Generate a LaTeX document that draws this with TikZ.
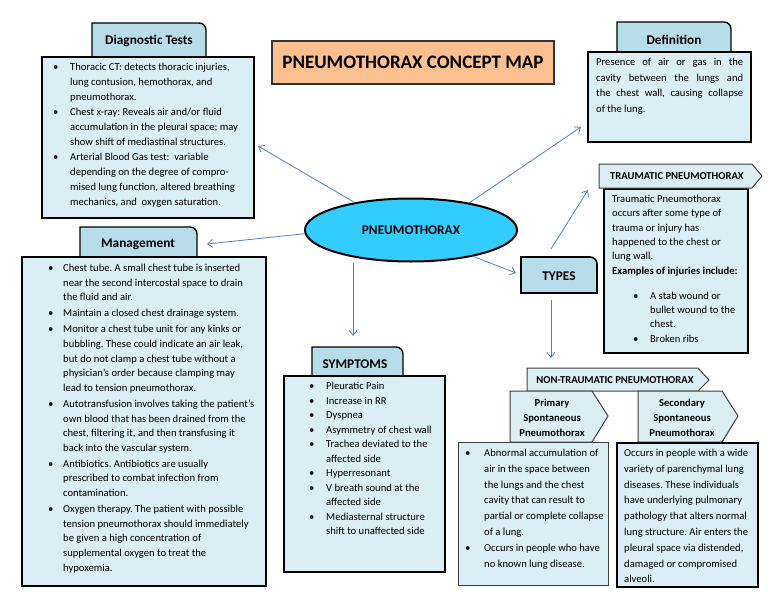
\documentclass[tikz,border=0pt]{standalone}
\usepackage{fontspec}
\setmainfont{Carlito}
\usetikzlibrary{arrows.meta,shapes.geometric,calc}
\definecolor{boxfill}{HTML}{DBEEF4}
\definecolor{tabfill}{HTML}{B7DEE8}
\definecolor{ellfill}{HTML}{33CCFF}
\definecolor{titlefill}{HTML}{FAC090}
\definecolor{arrowblue}{HTML}{4F81BD}
\definecolor{hdrline}{HTML}{404040}
\newcommand\bu{\makebox[17pt][l]{\textbullet}}
\newcommand\ind{\hspace*{17pt}}
\newcommand\bub{\makebox[19pt][l]{\textbullet}}
\newcommand\indb{\hspace*{19pt}}
\newcommand\bum{\makebox[15pt][l]{\textbullet}}
\newcommand\indm{\hspace*{15pt}}
\newcommand\jl[1]{\makebox[147pt][s]{#1}}
\tikzset{
  panel/.style={draw=black, line width=1.6pt, fill=boxfill, anchor=north west, inner sep=0pt},
  tabshape/.style={draw=black, line width=1.4pt, fill=tabfill},
  tabtext/.style={font=\fontsize{13.3}{16}\selectfont\bfseries, inner sep=0pt},
  body/.style={align=left, inner sep=0pt, anchor=north west},
  link/.style={draw=arrowblue, line width=0.8pt, -{Straight Barb[length=5pt,width=8pt]}},
  hdr/.style={draw=hdrline, line width=1pt, fill=boxfill},
  hdrtext/.style={font=\fontsize{10.6}{15}\selectfont\bfseries, inner sep=0pt, align=center},
}
\begin{document}
\frenchspacing
\begin{tikzpicture}[x=1pt,y=-1pt]
\useasboundingbox (0,0) rectangle (768,594);

% title
\node[draw=black!80, line width=1.2pt, fill=titlefill, minimum width=282pt, minimum height=43pt,
  inner sep=0pt, font=\fontsize{19}{22}\selectfont\bfseries] (title) at (413,62.5) {PNEUMOTHORAX CONCEPT MAP};

% Diagnostic tests
\draw[tabshape] (92,56) -- (92,23) -- (199,23) arc[start angle=-90,end angle=0,radius=7] -- (206,56);
\node[tabtext] (diagtab) at (149,41) {Diagnostic Tests};
\node[panel, minimum width=212pt, minimum height=161pt] (diagbox) at (41,56) {};
\node[body, font=\fontsize{10.6}{15}\selectfont] (diagtxt) at (53,63) {%
\bu Thoracic CT: detects thoracic injuries,\\
\ind lung contusion, hemothorax, and\\
\ind pneumothorax.\\
\bu Chest x-ray: Reveals air and/or fluid\\
\ind accumulation in the pleural space; may\\
\ind show shift of mediastinal structures.\\
\bu Arterial Blood Gas test:\ \ variable\\
\ind depending on the degree of compro-\\
\ind mised lung function, altered breathing\\
\ind mechanics, and\ \ oxygen saturation.};

% Definition
\draw[tabshape] (617,51) -- (617,22) -- (724,22) arc[start angle=-90,end angle=0,radius=7] -- (731,51);
\node[tabtext] (deftab) at (674,40) {Definition};
\node[panel, minimum width=163pt, minimum height=90pt] (defbox) at (587,51) {};
\node[body, font=\fontsize{10.6}{15.7}\selectfont] (deftxt) at (596,58) {%
\jl{Presence of air or gas in the}\\
\jl{cavity between the lungs and}\\
\jl{the chest wall, causing collapse}\\
of the lung.};

% Ellipse
\node[ellipse, draw=black, line width=2pt, fill=ellfill, minimum width=212pt, minimum height=63pt,
  inner sep=0pt, font=\fontsize{13.3}{16}\selectfont\bfseries] (pneu) at (411,230) {PNEUMOTHORAX};

% Management
\draw[tabshape] (80,256) -- (80,227) -- (190,227) arc[start angle=-90,end angle=0,radius=7] -- (197,256);
\node[tabtext] (mgmttab) at (138,244) {Management};
\node[panel, minimum width=244pt, minimum height=329pt] (mgmtbox) at (21,256) {};
\node[body, font=\fontsize{10.6}{14.6}\selectfont] (mgmttxt) at (48,264) {%
\bum Chest tube. A small chest tube is inserted\\
\indm near the second intercostal space to drain\\
\indm the fluid and air.\\[1.5pt]
\bum Maintain a closed chest drainage system.\\[1.5pt]
\bum Monitor a chest tube unit for any kinks or\\
\indm bubbling. These could indicate an air leak,\\
\indm but do not clamp a chest tube without a\\
\indm physician’s order because clamping may\\
\indm lead to tension pneumothorax.\\[1.5pt]
\bum Autotransfusion involves taking the patient’s\\
\indm own blood that has been drained from the\\
\indm chest, filtering it, and then transfusing it\\
\indm back into the vascular system.\\[1.5pt]
\bum Antibiotics. Antibiotics are usually\\
\indm prescribed to combat infection from\\
\indm contamination.\\[1.5pt]
\bum Oxygen therapy. The patient with possible\\
\indm tension pneumothorax should immediately\\
\indm be given a high concentration of\\
\indm supplemental oxygen to treat the\\
\indm hypoxemia.};

% Symptoms
\draw[tabshape] (312,375) -- (312,347) -- (396,347) arc[start angle=-90,end angle=0,radius=7] -- (403,375);
\node[tabtext] (symtab) at (355,364) {SYMPTOMS};
\node[panel, minimum width=161pt, minimum height=196pt] (symbox) at (283,375) {};
\node[body, font=\fontsize{10.6}{14.5}\selectfont] (symtxt) at (309,382) {%
\bu Pleuratic Pain\\
\bu Increase in RR\\
\bu Dyspnea\\
\bu Asymmetry of chest wall\\
\bu Trachea deviated to the\\
\ind affected side\\
\bu Hyperresonant\\
\bu V breath sound at the\\
\ind affected side\\
\bu Mediasternal structure\\
\ind shift to unaffected side};

% TYPES
\draw[draw=black, line width=1.6pt, fill=tabfill] (521,293) -- (521,257) -- (590,257)
  arc[start angle=-90,end angle=0,radius=7] -- (597,293) -- cycle;
\node[tabtext] (types) at (559,276) {TYPES};

% Traumatic
\node[panel, minimum width=144pt, minimum height=164pt] (traubox) at (603,188) {};
\draw[hdr] (599,164) -- (752,164) -- (762,176) -- (752,188) -- (599,188) -- cycle;
\node[hdrtext] (trauhdr) at (677,176) {TRAUMATIC PNEUMOTHORAX};
\node[body, font=\fontsize{10.6}{14.3}\selectfont] (trautxt) at (612,195) {%
Traumatic Pneumothorax\\
occurs after some type of\\
trauma or injury has\\
happened to the chest or\\
lung wall.\\
\textbf{Examples of injuries include:}\\[11pt]
\hspace*{21pt}\bu A stab wound or\\
\hspace*{21pt}\ind bullet wound to the\\
\hspace*{21pt}\ind chest.\\
\hspace*{21pt}\bu Broken ribs};

% Non-traumatic
\draw[hdr] (527,368) -- (698,368) -- (709,380) -- (698,391) -- (527,391) -- cycle;
\node[hdrtext] (nontrauhdr) at (615,380) {NON-TRAUMATIC PNEUMOTHORAX};
\draw[hdr] (510,442) -- (510,391) -- (592,391) -- (608,416) -- (592,442) -- cycle;
\node[hdrtext] (primhdr) at (552,418) {Primary\\Spontaneous\\Pneumothorax};
\draw[hdr] (638,442) -- (638,391) -- (722,391) -- (738,416) -- (722,442) -- cycle;
\node[hdrtext] (sechdr) at (682,418) {Secondary\\Spontaneous\\Pneumothorax};

\node[panel, draw=hdrline, line width=1.2pt, minimum width=150pt, minimum height=143pt] (primbox) at (458,442) {};
\node[body, font=\fontsize{10.6}{15.8}\selectfont] (primtxt) at (465,449) {%
\bub Abnormal accumulation of\\
\indb air in the space between\\
\indb the lungs and the chest\\
\indb cavity that can result to\\
\indb partial or complete collapse\\
\indb of a lung.\\
\bub Occurs in people who have\\
\indb no known lung disease.};

\node[panel, line width=2.2pt, minimum width=141pt, minimum height=144pt] (secbox) at (616,442) {};
\node[body, font=\fontsize{10.6}{15.8}\selectfont] (sectxt) at (624,449) {%
Occurs in people with a wide\\
variety of parenchymal lung\\
diseases. These individuals\\
have underlying pulmonary\\
pathology that alters normal\\
lung structure. Air enters the\\
pleural space via distended,\\
damaged or compromised\\
alveoli.};

% connectors
\coordinate (diagend) at (258,146);
\coordinate (defend) at (581,127);
\coordinate (mgmtend) at (207,244);
\coordinate (symend) at (353,336);
\coordinate (typesend) at (516,273);
\coordinate (tupstart) at (551,249);
\coordinate (tupend) at (588,190);
\coordinate (tdnstart) at (551,300);
\coordinate (tdnend) at (551,358);
\draw[link] (pneu.154) -- (diagend);
\draw[link] (pneu.25) -- (defend);
\draw[link] (pneu.182) -- (mgmtend);
\draw[link] (pneu.south -| symend) -- (symend);
\draw[link] (pneu.-23) -- (typesend);
\draw[link] (tupstart) -- (tupend);
\draw[link] (tdnstart) -- (tdnend);
\end{tikzpicture}
\end{document}
